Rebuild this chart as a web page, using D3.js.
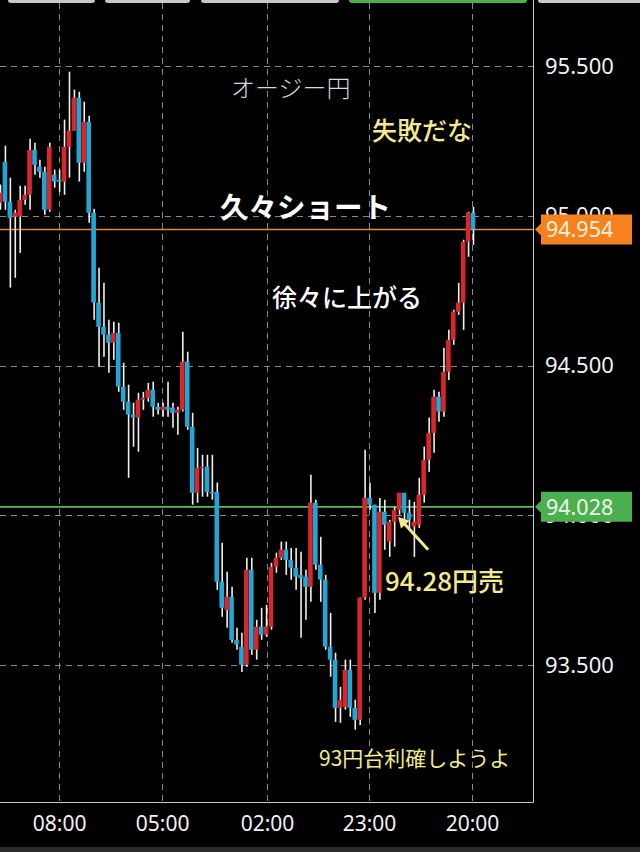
<!DOCTYPE html>
<html><head><meta charset="utf-8">
<script src="https://cdn.jsdelivr.net/npm/d3@7"></script>
<style>
html,body{margin:0;padding:0;background:#000;overflow:hidden;}
svg{display:block;}
</style></head><body>
<svg id="c" width="640" height="852"></svg>
<script>
// ---- data (AUD/JPY candles, left to right) ----
const opens = [
95.043,95.180,95.047,94.997,94.997,95.053,95.070,95.220,95.164,95.147,
95.020,95.137,95.120,95.114,95.230,95.284,95.394,95.177,95.314,95.010,
94.710,94.629,94.603,94.576,94.609,94.429,94.379,94.336,94.326,94.386,
94.392,94.419,94.362,94.352,94.362,94.359,94.342,94.352,94.513,94.295,
94.075,94.159,94.162,94.078,94.078,93.778,93.684,93.728,93.584,93.561,
93.501,93.818,93.551,93.628,93.601,93.628,93.828,93.858,93.885,93.851,
93.825,93.801,93.795,93.761,94.042,93.835,93.785,93.561,93.518,93.357,
93.360,93.484,93.357,93.317,93.725,94.058,94.035,93.741,94.012,93.912,
93.978,94.018,94.075,94.008,93.962,93.968,94.068,94.185,94.275,94.396,
94.346,94.479,94.586,94.680,94.710,94.913,95.010];
const highs = [
95.104,95.234,95.127,95.020,95.100,95.100,95.257,95.244,95.187,95.164,
95.244,95.154,95.154,95.321,95.481,95.421,95.414,95.381,95.334,95.023,
94.826,94.776,94.653,94.646,94.643,94.509,94.436,94.376,94.409,94.412,
94.442,94.446,94.376,94.376,94.446,94.376,94.362,94.613,94.546,94.342,
94.225,94.202,94.202,94.202,94.109,93.908,93.811,93.761,93.624,93.608,
93.858,93.858,93.651,93.691,93.701,93.841,93.875,93.912,93.912,93.891,
93.891,93.878,93.818,94.135,94.052,93.928,93.801,93.674,93.541,93.427,
93.518,93.518,93.384,93.725,94.219,94.109,94.035,94.058,94.052,93.985,
94.028,94.075,94.075,94.052,94.045,94.125,94.229,94.326,94.419,94.412,
94.559,94.619,94.686,94.776,94.920,95.013,95.030];
const lows = [
95.020,95.020,94.760,94.793,94.876,95.037,95.020,95.137,95.127,95.003,
95.013,95.094,95.080,95.070,95.127,95.284,95.114,95.147,94.977,94.653,
94.496,94.529,94.476,94.519,94.412,94.352,94.125,94.229,94.212,94.352,
94.379,94.329,94.336,94.329,94.329,94.292,94.269,94.346,94.285,94.035,
94.042,94.062,94.062,94.052,93.751,93.661,93.624,93.574,93.551,93.477,
93.494,93.534,93.518,93.584,93.594,93.618,93.808,93.851,93.801,93.785,
93.751,93.591,93.651,93.711,93.818,93.711,93.551,93.461,93.310,93.307,
93.351,93.327,93.284,93.300,93.718,94.018,93.674,93.718,93.885,93.861,
93.895,94.002,93.985,93.952,93.861,93.958,94.042,94.145,94.209,94.312,
94.329,94.452,94.569,94.669,94.619,94.863,94.903];
const closes = [
95.077,95.047,94.993,95.010,95.053,95.070,95.220,95.170,95.147,95.020,
95.230,95.114,95.114,95.230,95.284,95.394,95.177,95.314,95.010,94.710,
94.629,94.603,94.576,94.609,94.429,94.379,94.336,94.326,94.386,94.392,
94.419,94.362,94.352,94.362,94.352,94.342,94.352,94.513,94.295,94.075,
94.159,94.162,94.078,94.075,93.778,93.691,93.728,93.584,93.568,93.501,
93.818,93.551,93.628,93.601,93.628,93.828,93.858,93.885,93.851,93.825,
93.795,93.791,93.761,94.042,93.835,93.785,93.561,93.518,93.357,93.384,
93.484,93.357,93.317,93.725,94.058,94.035,93.741,94.012,93.968,93.978,
94.018,94.075,94.008,93.985,93.978,94.068,94.185,94.275,94.396,94.346,
94.479,94.586,94.680,94.710,94.913,95.010,94.954];

const yTicks = [93.5, 94.0, 94.5, 95.0, 95.5];
const xTickPos = [12, 32.9, 54.2, 74.9, 95.8];
const xTickLabels = ["08:00", "05:00", "02:00", "23:00", "20:00"];
const askPrice = 94.954;
const linePrice = 94.028;
const arrowFrom = [86.9, 93.885];
const arrowTo = [80.8, 93.995];

// ---- layout ----
const W = 640, H = 852;
const plotR = 533, plotB = 802;
const svg = d3.select("#c");
svg.append("rect").attr("width", W).attr("height", H).attr("fill", "#000");

const x = d3.scaleLinear().domain([0, closes.length - 1]).range([0, 473]);
const y = d3.scaleLinear().domain([93.5, 95.5]).range([665, 66]);

// top tabs
const tabs = [[8,95,"#c8c8c8"],[105,190,"#c8c8c8"],[201,339,"#c8c8c8"],[349,527,"#4caf50"],[538,660,"#c8c8c8"]];
svg.selectAll(".tab").data(tabs).join("rect")
  .attr("x", d => d[0]).attr("y", -5).attr("width", d => d[1]-d[0]).attr("height", 8)
  .attr("rx", 3).attr("fill", d => d[2]);

// grid
const grid = svg.append("g");
grid.selectAll(".hg").data(yTicks).join("line")
  .attr("x1", 0).attr("x2", plotR).attr("y1", d => Math.round(y(d))+0.5).attr("y2", d => Math.round(y(d))+0.5)
  .attr("stroke", "#8a8a8a").attr("stroke-width", 1).attr("stroke-dasharray", "6,5");
grid.selectAll(".vg").data(xTickPos).join("line")
  .attr("y1", 3).attr("y2", plotB).attr("x1", d => Math.round(x(d))+0.5).attr("x2", d => Math.round(x(d))+0.5)
  .attr("stroke", "#8a8a8a").attr("stroke-width", 1).attr("stroke-dasharray", "6,5");

// price lines
svg.append("line").attr("x1", 0).attr("x2", plotR).attr("y1", y(askPrice)).attr("y2", y(askPrice))
  .attr("stroke", "#e8844a").attr("stroke-width", 1.6);
svg.append("line").attr("x1", 0).attr("x2", plotR).attr("y1", y(linePrice)).attr("y2", y(linePrice))
  .attr("stroke", "#5cb85c").attr("stroke-width", 1.6);

// candles
svg.append("clipPath").attr("id", "pc").append("rect").attr("x", 0).attr("y", 0).attr("width", plotR).attr("height", plotB);
const cg = svg.append("g").attr("clip-path", "url(#pc)");
const idx = d3.range(closes.length);
const bw = 4.6;
cg.selectAll(".wick").data(idx).join("line")
  .attr("x1", i => x(i) + 0.5).attr("x2", i => x(i) + 0.5)
  .attr("y1", i => y(highs[i])).attr("y2", i => y(lows[i]))
  .attr("stroke", "#f0f0f0").attr("stroke-width", 1.6);
cg.selectAll(".body").data(idx).join("rect")
  .attr("x", i => x(i) - bw/2).attr("width", bw)
  .attr("y", i => Math.min(y(opens[i]), y(closes[i])))
  .attr("height", i => Math.max(1.5, Math.abs(y(opens[i]) - y(closes[i]))))
  .attr("fill", i => closes[i] >= opens[i] ? "#d8262a" : "#22a6d6");

// axis frame
svg.append("line").attr("x1", plotR+0.5).attr("x2", plotR+0.5).attr("y1", 0).attr("y2", plotB+0.5)
  .attr("stroke", "#c8c8c8").attr("stroke-width", 1);
svg.append("line").attr("x1", 0).attr("x2", plotR+0.5).attr("y1", plotB+0.5).attr("y2", plotB+0.5)
  .attr("stroke", "#c8c8c8").attr("stroke-width", 1);

// y axis labels
const ya = svg.append("g").attr("transform", `translate(${plotR},0)`)
  .call(d3.axisRight(y).tickValues(yTicks).tickFormat(d3.format(".3f")).tickSize(0).tickPadding(12));
ya.select(".domain").remove();
ya.selectAll("text").attr("fill", "#f2f2f2").attr("font-family", "'Noto Sans', sans-serif").attr("font-size", 22);

// x axis labels
const xa = svg.append("g").attr("transform", `translate(0,${plotB})`)
  .call(d3.axisBottom(x).tickValues(xTickPos).tickFormat((d, i) => xTickLabels[i]).tickSize(0).tickPadding(14));
xa.select(".domain").remove();
xa.selectAll("text").attr("fill", "#f2f2f2").attr("font-family", "'Noto Sans', sans-serif").attr("font-size", 21);

// price tags (cover the axis labels behind them, as in the app)
function tag(price, color, textColor) {
  const cy = y(price);
  const g = svg.append("g");
  g.append("path").attr("d", `M${plotR+2},${cy} L${plotR+8},${cy-6} L${plotR+8},${cy-15} L632,${cy-15} L632,${cy+15} L${plotR+8},${cy+15} L${plotR+8},${cy+6} Z`)
    .attr("fill", color);
  g.append("text").attr("x", 546).attr("y", cy).attr("dy", "0.36em")
    .attr("fill", textColor).attr("font-family", "'Noto Sans', sans-serif").attr("font-size", 21.5)
    .text(d3.format(".3f")(price));
}
tag(askPrice, "#f5821f", "#fff1dc");
tag(linePrice, "#4caf50", "#eefbe8");

// annotations
const jp = "'Noto Sans CJK JP', sans-serif";
function note(t, px, py, size, color, weight) {
  svg.append("text").attr("x", px).attr("y", py).attr("font-family", jp)
    .attr("font-size", size).attr("fill", color).attr("font-weight", weight || 400).text(t);
}
note("オージー円", 231, 97, 24, "#d8d8d8", 300);
note("失敗だな", 372, 140, 25, "#f2ea8c", 500);
note("久々ショート", 220, 218, 28.5, "#ffffff", 700);
note("徐々に上がる", 272, 307, 25, "#ffffff", 500);
note("94.28円売", 385, 591, 26, "#f2ea8c", 500);
note("93円台利確しようよ", 319, 766, 21, "#f2ea8c", 400);

// arrow
const ax1 = x(arrowFrom[0]), ay1 = y(arrowFrom[1]), ax2 = x(arrowTo[0]), ay2 = y(arrowTo[1]);
const ang = Math.atan2(ay2 - ay1, ax2 - ax1);
svg.append("line").attr("x1", ax1).attr("y1", ay1).attr("x2", ax2 - 6*Math.cos(ang)).attr("y2", ay2 - 6*Math.sin(ang))
  .attr("stroke", "#f2ea8c").attr("stroke-width", 3);
const hl = 12, hw = 0.5;
svg.append("path").attr("d", `M${ax2},${ay2} L${ax2 - hl*Math.cos(ang-hw)},${ay2 - hl*Math.sin(ang-hw)} L${ax2 - hl*Math.cos(ang+hw)},${ay2 - hl*Math.sin(ang+hw)} Z`)
  .attr("fill", "#f2ea8c");

// bottom bar
svg.append("rect").attr("x", 0).attr("y", 847).attr("width", W).attr("height", 5).attr("fill", "#2c2c2c");
</script>
</body></html>
